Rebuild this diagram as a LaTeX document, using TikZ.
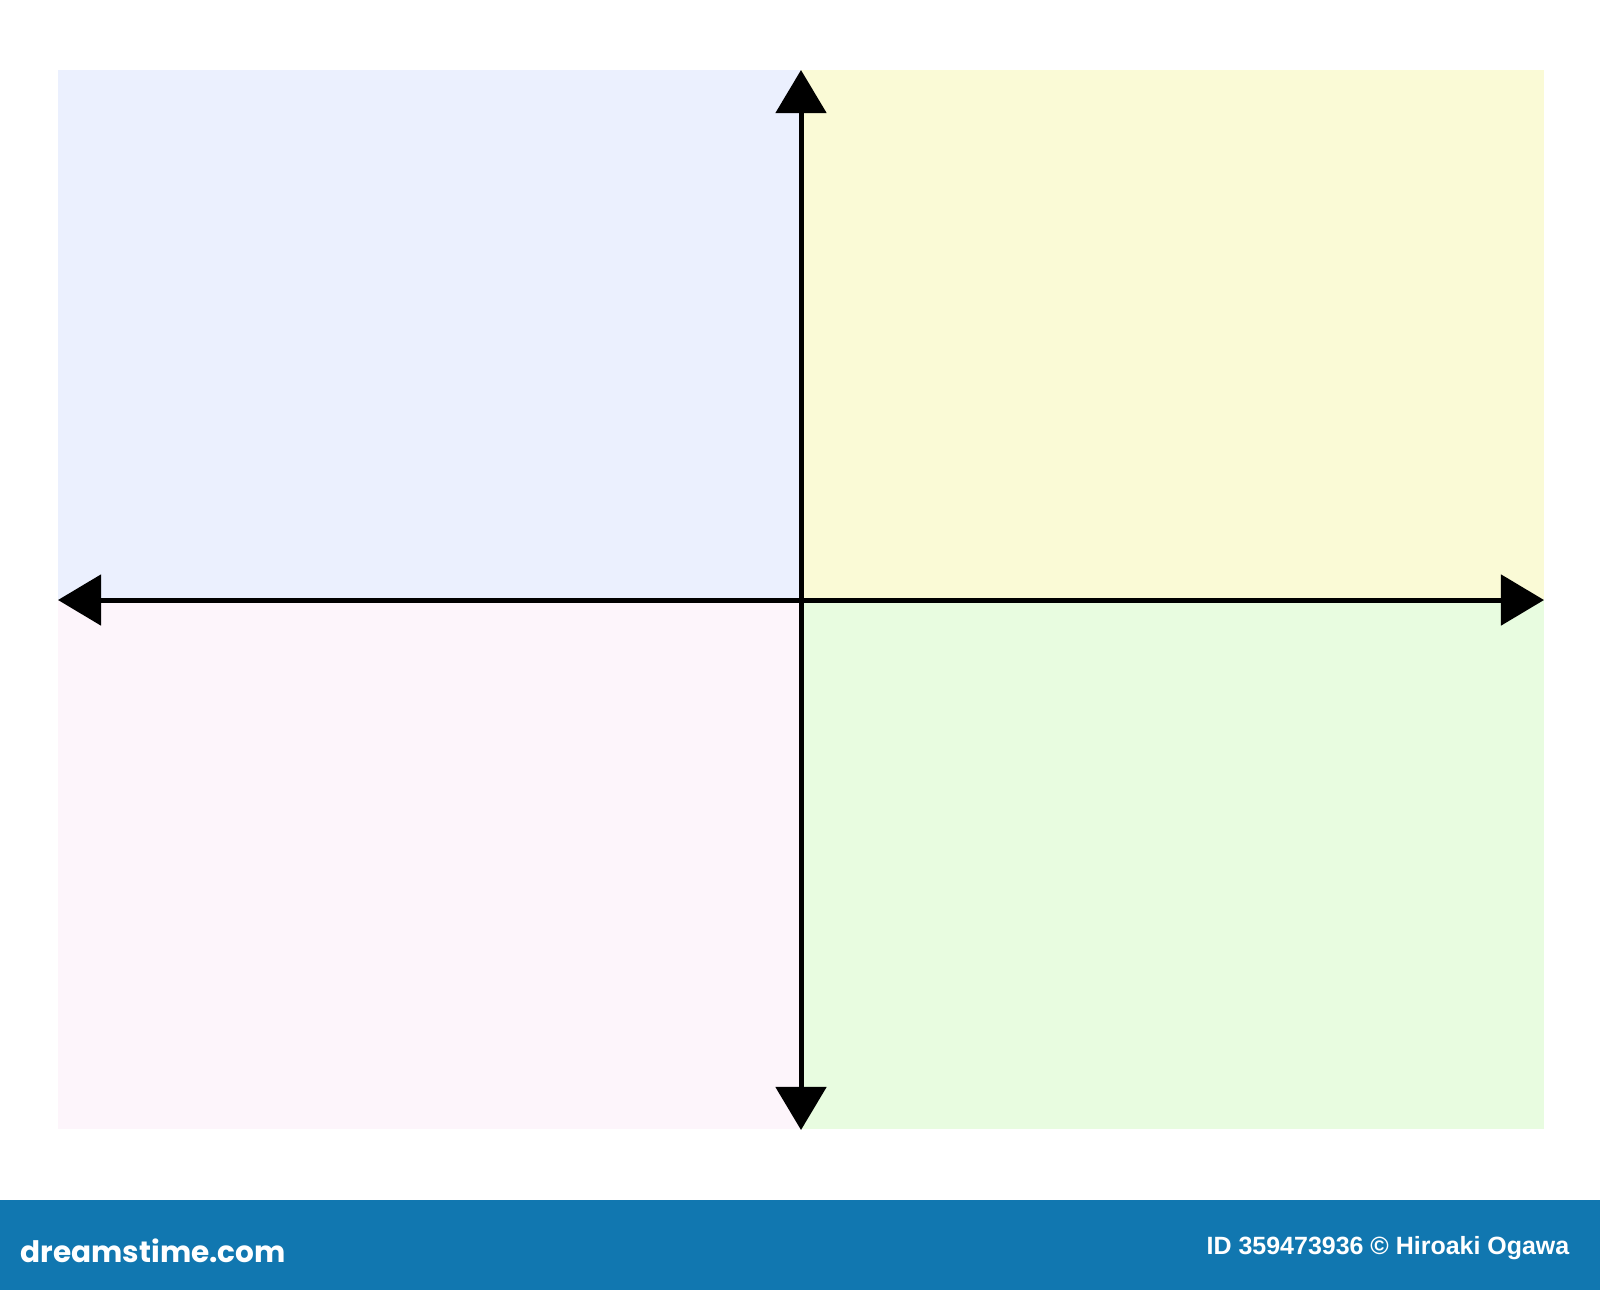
\documentclass[tikz,border=0pt]{standalone}
\usepackage{fontspec}
\setmainfont{Liberation Sans}
\newfontfamily\logofont{Poppins}
\usetikzlibrary{arrows.meta}
\usetikzlibrary{positioning}
\definecolor{qblue}{RGB}{235,240,254}
\definecolor{qyellow}{RGB}{250,250,214}
\definecolor{qpink}{RGB}{253,245,251}
\definecolor{qgreen}{RGB}{232,252,224}
\definecolor{barblue}{RGB}{17,119,176}
\tikzset{
  axis/.style={line width=0.05cm, black, {Triangle[length=0.43cm,width=0.5cm]}-{Triangle[length=0.43cm,width=0.5cm]}},
  bartext/.style={text=white, inner sep=0pt}
}

\begin{document}
\begin{tikzpicture}[x=0.01cm,y=-0.01cm]
		\useasboundingbox[fill=white] (0,0) rectangle (1600,1290);
		
		% quadrants
		\fill[qblue] (58,70) rectangle (801,600);
		\fill[qyellow] (801,70) rectangle (1544,600);
		\fill[qpink] (58,600) rectangle (801,1129);
		\fill[qgreen] (801,600) rectangle (1544,1129);
		
		% axis ends
		\coordinate (west) at (58,600);
		\coordinate (east) at (1544,600);
		\coordinate (north) at (801,70);
		\coordinate (south) at (801,1130);
		
		% axes
		\draw[axis] (west) -- (east);
		\draw[axis] (north) -- (south);
		
		% bottom bar
		\fill[barblue] (0,1200) rectangle (1600,1290);
		\node[bartext, anchor=base west, font=\logofont\bfseries\fontsize{8.4}{10}\selectfont] (logo) at (20,1262) {dreamstime.com};
		\node[bartext, anchor=base east, font=\bfseries\fontsize{7.1}{8}\selectfont] (credit) at (1570,1254) {ID 359473936 © Hiroaki Ogawa};
	\end{tikzpicture}
\end{document}
